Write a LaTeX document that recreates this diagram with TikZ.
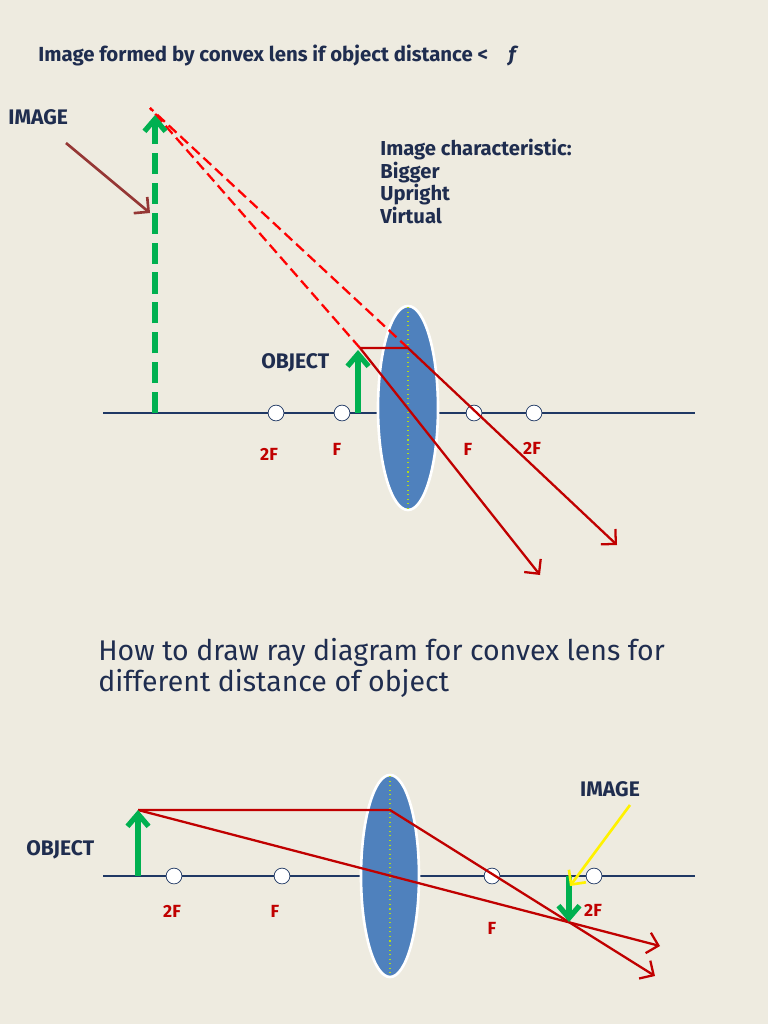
\documentclass[tikz,border=0pt]{standalone}
\usepackage{fontspec}
\setmainfont{Fira Sans}
\usetikzlibrary{arrows.meta}
\definecolor{bg}{HTML}{EEEBE0}
\definecolor{navy}{HTML}{1F2D4F}
\definecolor{lensc}{HTML}{4F81BD}
\definecolor{gr}{HTML}{00B050}
\definecolor{rayc}{HTML}{C00000}
\definecolor{axc}{HTML}{1F3864}
\definecolor{brn}{HTML}{953735}
\begin{document}
\begin{tikzpicture}[x=0.02cm,y=-0.02cm,
  txt/.style={text=navy,font=\bfseries\fontsize{12}{14}\selectfont,inner sep=0},
  flab/.style={text=rayc,font=\bfseries\fontsize{10}{12}\selectfont,inner sep=0},
  pt/.style={circle,draw=axc,fill=white,inner sep=0,minimum size=9pt},
  ray/.style={rayc,line width=1.3pt},
  rayd/.style={red,line width=1.3pt,dash pattern=on 6pt off 3pt},
  garrow/.style={gr,line width=3pt,-{Straight Barb[length=7pt,width=12pt]}},
  ax/.style={axc,line width=1.3pt}]
\fill[bg] (0,0) rectangle (768,1024);
\node[txt,anchor=west,font=\bfseries\fontsize{11.6}{14}\selectfont] (title) at (38,55) {Image formed by convex lens if object distance <\quad \textit{f}};
% top
\coordinate (a1) at (103,413); \coordinate (a2) at (695,413);
\draw[ax] (a1)--(a2);
\fill[lensc,draw=white,line width=1.5pt] (408,408) ellipse [x radius=30, y radius=102];
\draw[yellow!70!green,dotted,line width=0.6pt] (408,307)--(408,509);
\foreach \x/\n in {276/p1,342/p2,474/p3,534/p4} \node[pt] (\n) at (\x,413) {};
\node[flab] at (269,454) {2F}; \node[flab] at (337,449) {F};
\node[flab] at (468,449) {F}; \node[flab] at (532,448) {2F};
\coordinate (ot) at (360,348); \coordinate (lt) at (408,348); \coordinate (tip) at (150,108);
\draw[rayd] (lt)--(tip); \draw[rayd] (ot)--(tip);
\draw[ray,-{Straight Barb[length=6pt]}] (ot)--(lt)--(617,545);
\draw[ray,-{Straight Barb[length=6pt]}] (ot)--(540,575);
\draw[garrow] (358,413)--(358,350);
\draw[garrow,dash pattern=on 12pt off 5pt] (155,413)--(155,115);
\node[txt,anchor=west] (obj) at (261,363) {OBJECT};
\node[txt,anchor=west] (img) at (8,117) {IMAGE};
\draw[brn,line width=1.5pt,-{Straight Barb[length=6pt]}] (66,143)--(150,213);
\node[txt,anchor=north west,align=left,font=\bfseries\fontsize{11.5}{12.8}\selectfont] (ch) at (380,139) {Image characteristic:\\Bigger\\Upright\\Virtual};
\node[anchor=north west,align=left,text=navy,inner sep=0,font=\fontsize{16.2}{17.6}\selectfont] (hd) at (98,638) {How to draw ray diagram for convex lens for\\different distance of object};
% bottom
\draw[ax] (103,876)--(695,876);
\fill[lensc,draw=white,line width=1.5pt] (390,876) ellipse [x radius=29, y radius=101];
\draw[yellow!70!green,dotted,line width=0.6pt] (390,776)--(390,976);
\foreach \x/\n in {174/q1,282/q2,492/q3,594/q4} \node[pt] (\n) at (\x,876) {};
\node[flab] at (172,911) {2F}; \node[flab] at (275,911) {F};
\node[flab] at (492,928) {F}; \node[flab] at (593,910) {2F};
\coordinate (bo) at (138,810); \coordinate (bl) at (390,810);
\draw[ray,-{Straight Barb[length=6pt]}] (bo)--(bl)--(655,976);
\draw[ray,-{Straight Barb[length=6pt]}] (bo)--(660,946);
\draw[garrow] (138,876)--(138,810);
\draw[garrow] (569,876)--(569,922);
\node[txt,anchor=west] at (26,850) {OBJECT};
\node[txt] at (610,789) {IMAGE};
\draw[yellow,line width=1.5pt,-{Straight Barb[length=6pt]}] (630,805)--(570,886);
\end{tikzpicture}
\end{document}
